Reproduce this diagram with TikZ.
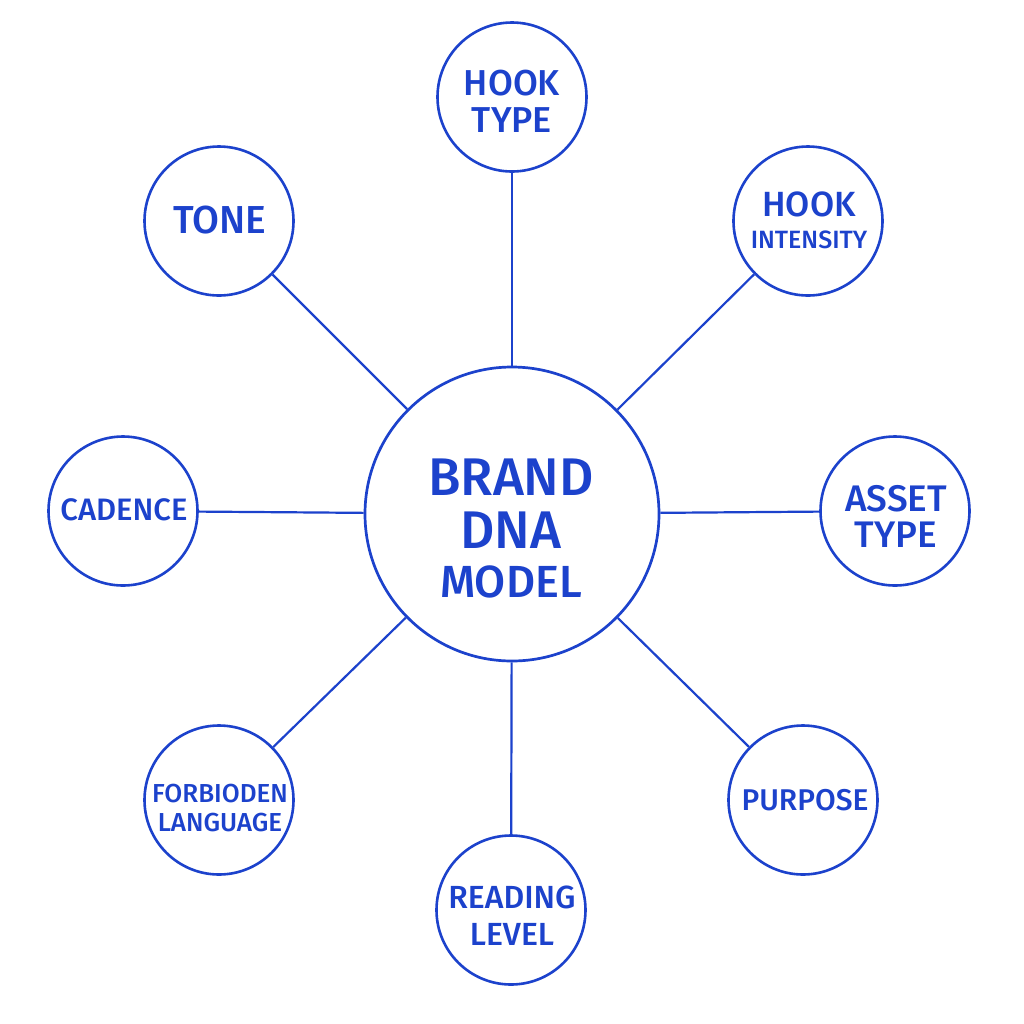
\documentclass[tikz,border=0pt]{standalone}
\usepackage{fontspec}
\setmainfont{Fira Sans}[UprightFont={* Medium},BoldFont={* SemiBold}]
\definecolor{dnablue}{RGB}{28,66,204}
\begin{document}
\begin{tikzpicture}[x=0.5pt,y=-0.5pt,
  spoke/.style={circle,draw=dnablue,line width=1.3pt,minimum size=74.5pt,inner sep=0pt},
  hub/.style={circle,draw=dnablue,line width=1.35pt,minimum size=147pt,inner sep=0pt},
  lbl/.style={text=dnablue,align=center,inner sep=0pt},
  link/.style={draw=dnablue,line width=1.1pt}]
\useasboundingbox[fill=white] (0,0) rectangle (1024,1024);
% circles
\node[hub] (c) at (512,514) {};
\node[spoke] (ht) at (512,97) {};
\node[spoke] (tone) at (219,221) {};
\node[spoke] (hi) at (808,221) {};
\node[spoke] (cad) at (123,511) {};
\node[spoke] (at) at (895,511) {};
\node[spoke] (fl) at (219,800) {};
\node[spoke] (pur) at (803,800) {};
\node[spoke] (rl) at (511,910) {};
% texts
\node[lbl,font=\fontsize{26.5}{26.5}\selectfont] (ct) at (511,528.5) {BRAND\\DNA\\[-2pt]{\fontsize{22.5}{24}\selectfont MODEL}};
\node[lbl,font=\fontsize{18}{18.5}\selectfont] (htt) at (512,101.5) {HOOK\\TYPE};
\node[lbl,font=\fontsize{19.5}{20}\selectfont] (tonet) at (220,220) {TONE};
\node[lbl,font=\fontsize{17.5}{16}\selectfont] (hit) at (809,220.5) {HOOK\\{\fontsize{12.5}{14}\selectfont INTENSITY}};
\node[lbl,font=\fontsize{15.5}{18}\selectfont] (cadt) at (124,510) {CADENCE};
\node[lbl,font=\fontsize{18.5}{18}\selectfont] (att) at (896,516.5) {ASSET\\TYPE};
\node[lbl,font=\fontsize{13}{14.5}\selectfont] (flt) at (220,808) {FORBIODEN\\LANGUAGE};
\node[lbl,font=\fontsize{15}{18}\selectfont] (purt) at (805,800) {PURPOSE};
\node[lbl,font=\fontsize{16}{18.5}\selectfont] (rlt) at (512,916) {READING\\LEVEL};
% connectors
\foreach \n in {ht,tone,hi,cad,at,fl,pur,rl}{\draw[link] (c) -- (\n);}
\end{tikzpicture}
\end{document}
